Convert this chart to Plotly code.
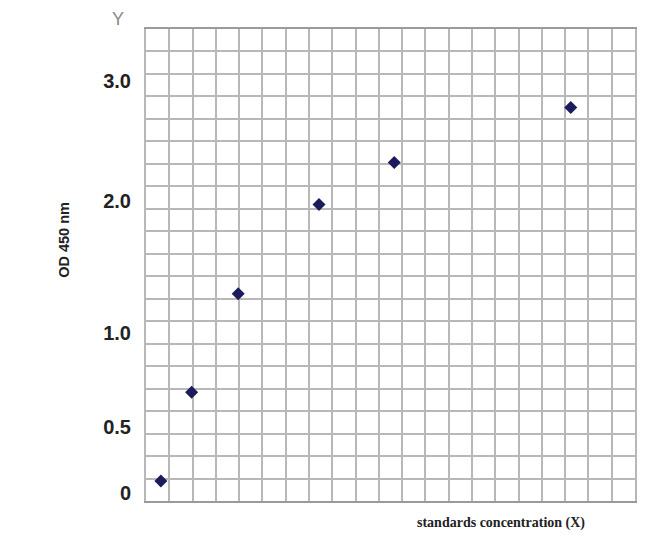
import numpy as np
import plotly.graph_objects as go

# standard curve points, x in grid squares (no x labels on the sheet), y in OD
conc = [0.64, 1.96, 3.96, 7.43, 10.66, 18.24]
od = [0.088, 0.683, 1.297, 1.976, 2.324, 2.783]

# the y scale of the sheet is not linear: labels sit at these grid positions
tick_od = [0, 0.5, 1.0, 2.0, 3.0]
tick_pos = [0.37, 3.31, 7.48, 13.33, 18.67]
tick_text = ["0", "0.5", "1.0", "2.0", "3.0"]

N_COLS = 21
N_ROWS = 21

y_plot = np.interp(od, tick_od, tick_pos)

fig = go.Figure()
fig.add_trace(go.Scatter(
    x=conc, y=y_plot, mode="markers",
    marker=dict(symbol="diamond", size=10, color="#1c1c5c"),
    yaxis="y", showlegend=False, hoverinfo="skip"))
# dummy trace so the labelled axis gets drawn
fig.add_trace(go.Scatter(x=[None], y=[None], yaxis="y2", showlegend=False))

grid = dict(showgrid=True, gridcolor="#b8b8b8", gridwidth=1.5, dtick=1, tick0=0,
            zeroline=False, showticklabels=False, ticks="")

fig.update_layout(
    width=650, height=552,
    # page has an 8px body margin, so pull the plot area back by that much
    margin=dict(l=138, r=23, t=21, b=59),
    paper_bgcolor="white", plot_bgcolor="white",
    xaxis=dict(range=[0, N_COLS], showline=True, mirror=True,
               linecolor="#9a9a9a", linewidth=1.5, **grid),
    yaxis=dict(range=[0, N_ROWS], showline=True, mirror=True,
               linecolor="#b8b8b8", linewidth=1.5, **grid),
    yaxis2=dict(range=[0, N_ROWS], overlaying="y", side="left", showgrid=False,
                zeroline=False, showline=False, tickmode="array",
                tickvals=tick_pos, ticktext=tick_text, ticks="",
                ticklabelstandoff=14,
                tickfont=dict(family="Liberation Sans", size=20, color="#222222",
                              weight="bold")),
    annotations=[
        dict(text="Y", xref="paper", yref="paper", x=-0.057, y=1.021,
             xanchor="center", yanchor="middle", showarrow=False,
             font=dict(family="Liberation Sans", size=18, color="#8a8a8a")),
        dict(text="OD 450 nm", xref="paper", yref="paper", x=-0.168, y=0.553,
             xanchor="center", yanchor="middle", textangle=-90, showarrow=False,
             font=dict(family="Liberation Sans", size=14.5, color="#222222",
                       weight="bold")),
        dict(text="standards concentration (X)", xref="paper", yref="paper",
             x=0.726, y=-0.047, xanchor="center", yanchor="middle",
             showarrow=False,
             font=dict(family="Liberation Serif", size=14, color="#222222",
                       weight="bold")),
    ],
)

fig.write_html("out.html")
